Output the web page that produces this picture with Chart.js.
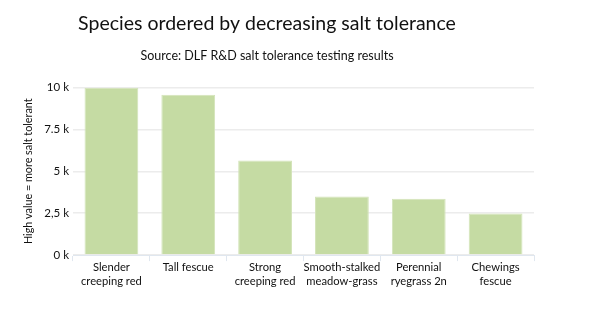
<!DOCTYPE html>
<html>
<head>
<meta charset="utf-8">
<script src="https://cdn.jsdelivr.net/npm/chart.js@4/dist/chart.umd.min.js"></script>
<style>
  html, body { margin: 0; padding: 0; background: #fff; }
  #wrap { width: 597px; height: 336px; }
</style>
</head>
<body>
<div id="wrap"><canvas id="myChart" width="597" height="336"></canvas></div>
<script>
// species, in order of decreasing salt tolerance
var species = [
    ['Slender', 'creeping red'],
    ['Tall fescue'],
    ['Strong', 'creeping red'],
    ['Smooth-stalked', 'meadow-grass'],
    ['Perennial', 'ryegrass 2n'],
    ['Chewings', 'fescue']
];
var saltValues = [9980, 9560, 5640, 3500, 3360, 2480];
var yTicks = [0, 2500, 5000, 7500, 10000];
var yTickLabels = ['0 k', '2,5 k', '5 k', '7.5 k', '10 k'];

var font = "Lato, 'Open Sans', sans-serif";

var ctx = document.getElementById('myChart').getContext('2d');
var chart = new Chart(ctx, {
    type: 'bar',
    data: {
        labels: species,
        datasets: [{
            data: saltValues,
            backgroundColor: '#c5dba3',
            borderColor: '#d3e4b9',
            borderWidth: 1,
            categoryPercentage: 1,
            barPercentage: 0.7
        }]
    },
    options: {
        responsive: false,
        animation: false,
        layout: {
            padding: { left: 0, right: 63, top: 0, bottom: 48 }
        },
        plugins: {
            legend: { display: false },
            tooltip: { enabled: false },
            title: {
                display: true,
                text: 'Species ordered by decreasing salt tolerance',
                color: '#111',
                font: { family: font, size: 19.5, weight: 'normal' },
                padding: { top: 12, bottom: 9 }
            },
            subtitle: {
                display: true,
                text: 'Source: DLF R&D salt tolerance testing results',
                color: '#111',
                font: { family: font, size: 12.5, weight: 'normal' },
                padding: { top: 4, bottom: 24 }
            }
        },
        scales: {
            x: {
                grid: {
                    offset: true,
                    drawOnChartArea: false,
                    drawTicks: true,
                    tickLength: 6,
                    color: '#e0e7ef'
                },
                border: { color: '#e0e7ef' },
                ticks: {
                    color: '#111',
                    maxRotation: 0,
                    autoSkip: false,
                    padding: 0,
                    font: { family: font, size: 11.2 }
                }
            },
            y: {
                min: 0,
                max: 10000,
                afterBuildTicks: function(axis) {
                    axis.ticks = yTicks.map(v => ({ value: v }));
                },
                afterFit: function(axis) {
                    axis.width = 73;
                },
                grid: { color: '#ececec', drawTicks: false, lineWidth: 1.5 },
                border: { display: false },
                ticks: {
                    color: '#111',
                    padding: 4,
                    font: { family: font, size: 11.5 },
                    callback: function(value) {
                        return yTickLabels[yTicks.indexOf(value)];
                    }
                },
                title: {
                    display: true,
                    text: 'High value = more salt tolerant',
                    color: '#111',
                    font: { family: font, size: 10.8 },
                    padding: { top: 22, bottom: 0 }
                }
            }
        }
    }
});
</script>
</body>
</html>
